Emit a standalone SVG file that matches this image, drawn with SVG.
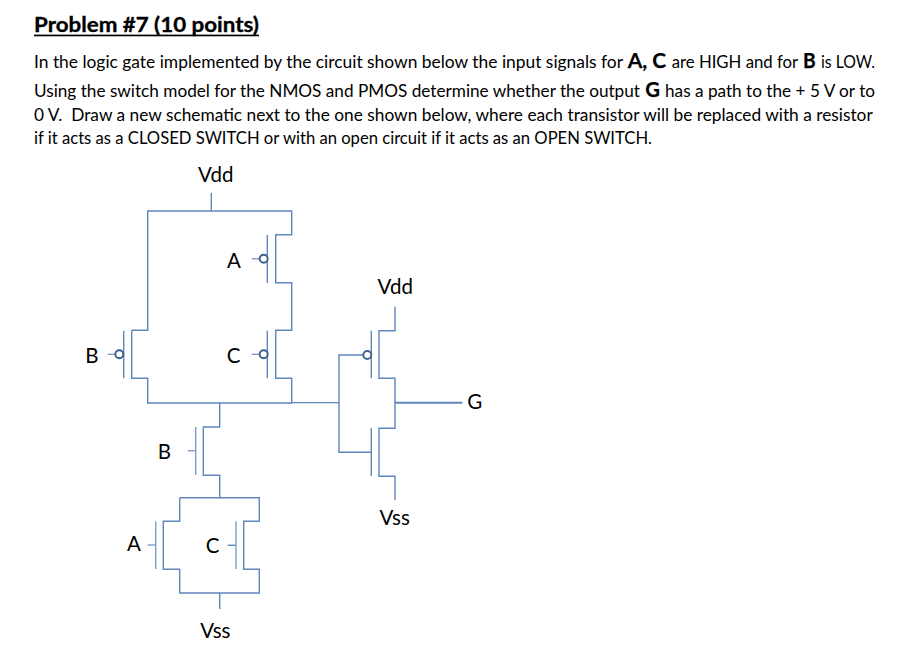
<svg xmlns="http://www.w3.org/2000/svg" width="923" height="662" viewBox="0 0 923 662">
<style>
text{font-family:"Lato","Liberation Sans",sans-serif;fill:#000}
.b{font-size:16.6px}
.h{font-size:21.5px;font-weight:700;stroke:#000;stroke-width:.25}
.t{font-size:20px;font-weight:700;stroke:#000;stroke-width:.3}
.l{font-size:20.5px;text-anchor:middle}
.w{fill:none;stroke:#5f86bd;stroke-width:1.4}
.g{fill:none;stroke:#7d9ccb;stroke-width:1.4}
.o{fill:#fff;stroke:#3f5f90;stroke-width:1.9}
</style>
<rect width="923" height="662" fill="#fff"/>
<g id="problem-text">
<text class="t" x="34" y="31.5" textLength="225" lengthAdjust="spacingAndGlyphs">Problem #7 (10 points)</text>
<rect x="34" y="34.6" width="225" height="1.7" fill="#000"/>
<text class="b" x="34" y="68" textLength="589" lengthAdjust="spacingAndGlyphs">In the logic gate implemented by the circuit shown below the input signals for</text>
<text class="h" x="627.7" y="68" textLength="38.5" lengthAdjust="spacingAndGlyphs">A, C</text>
<text class="b" x="671.7" y="68" textLength="126.5" lengthAdjust="spacingAndGlyphs">are HIGH and for</text>
<text class="h" x="803" y="68" textLength="12.7" lengthAdjust="spacingAndGlyphs">B</text>
<text class="b" x="821" y="68" textLength="54" lengthAdjust="spacingAndGlyphs">is LOW.</text>
<text class="b" x="34" y="97" textLength="606" lengthAdjust="spacingAndGlyphs">Using the switch model for the NMOS and PMOS determine whether the output</text>
<text class="h" x="645.3" y="97" textLength="14.7" lengthAdjust="spacingAndGlyphs">G</text>
<text class="b" x="665" y="97" textLength="210" lengthAdjust="spacingAndGlyphs">has a path to the + 5 V or to</text>
<text class="b" x="34" y="121" textLength="838.7" lengthAdjust="spacingAndGlyphs" xml:space="preserve">0 V.  Draw a new schematic next to the one shown below, where each transistor will be replaced with a resistor</text>
<text class="b" x="34" y="144" textLength="618" lengthAdjust="spacingAndGlyphs">if it acts as a CLOSED SWITCH or with an open circuit if it acts as an OPEN SWITCH.</text>
</g>
<g id="connectors">
<path class="w" d="M211.3 193V211M131.7 330.3H147.7V211H291.7V234.7H275.7V282.7H291.7V330.3H275.7V378.3H291.7V403H147.7V378.3H131.7V330.3"/>
<path class="w" d="M219.7 403V427H203.3V475.3H219.7V497.7M179.7 497.7H259.3V521.3H243.7V569.3H259.3V593H179.7V569.3H163.3V521.3H179.7V497.7M219.7 593V609"/>
<path class="w" d="M291.7 402.6H339M363 355H339V452.3H371.3M395 306.7V330.7H379V378.3H395V428.3H379V476.3H395V500"/>
<path class="w" style="stroke-width:2.1" d="M395 402.7H462.3"/>
</g>
<g id="pmos-a"><path class="g" d="M251.7 258.7H259.7"/><path class="w" d="M267.3 235V283"/><circle class="o" cx="263.7" cy="258.7" r="4"/><text class="l" x="234" y="267.7">A</text></g>
<g id="pmos-c"><path class="g" d="M251.7 354.3H259.7"/><path class="w" d="M267.3 330.7V378.3"/><circle class="o" cx="263.7" cy="354.3" r="4"/><text class="l" x="233.5" y="363">C</text></g>
<g id="pmos-b"><path class="g" d="M107.7 354.3H115.4"/><path class="w" d="M123.7 330.7V378.3"/><circle class="o" cx="119.3" cy="354.3" r="4"/><text class="l" x="92" y="363">B</text></g>
<g id="nmos-b"><path class="g" d="M187.7 450.7H195.7"/><path class="g" d="M195.7 427V475"/><text class="l" x="164.3" y="459">B</text></g>
<g id="nmos-a"><path class="g" d="M147.7 545H155.7"/><path class="g" d="M155.7 521.3V569"/><text class="l" x="134" y="550.7">A</text></g>
<g id="nmos-c"><path class="w" d="M227.7 545.3H236"/><path class="g" d="M236 521.3V569"/><text class="l" x="212.7" y="553">C</text></g>
<g id="inverter-pmos"><path class="w" d="M371.3 330.7V378.3"/><circle class="o" cx="367.3" cy="355" r="4"/></g>
<g id="inverter-nmos"><path class="w" d="M371.3 428.3V476"/></g>
<g id="vdd-top"><text class="l" x="215.7" y="181.7">Vdd</text></g>
<g id="vss-bottom"><text class="l" x="215.3" y="638">Vss</text></g>
<g id="vdd-right"><text class="l" x="395.3" y="294">Vdd</text></g>
<g id="vss-right"><text class="l" x="394.7" y="524.7">Vss</text></g>
<g id="output-g"><text class="l" x="474.7" y="409.3">G</text></g>
</svg>
